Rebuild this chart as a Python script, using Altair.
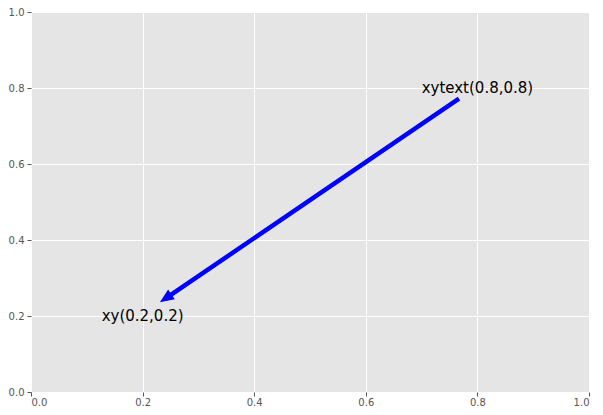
import math
import altair as alt
import pandas as pd

# annotation data
label_texts = ["xytext(0.8,0.8)", "xy(0.2,0.2)"]
label_x = [0.8, 0.2]
label_y = [0.8, 0.2]
arrow_tail = [0.767, 0.772]
arrow_tip = [0.231, 0.236]
tick_values = [0.0, 0.2, 0.4, 0.6, 0.8, 1.0]

W, H = 558, 380
HEAD_LEN = 14

# direction of arrow in pixel space
dx_px = (arrow_tip[0] - arrow_tail[0]) * W
dy_px = -(arrow_tip[1] - arrow_tail[1]) * H
L = math.hypot(dx_px, dy_px)
angle = math.degrees(math.atan2(dx_px, -dy_px)) % 360
back = HEAD_LEN - 3
shaft_end = [arrow_tip[0] - dx_px / L * back / W,
             arrow_tip[1] + dy_px / L * back / H]

shaft_df = pd.DataFrame({"x": [arrow_tail[0], shaft_end[0]],
                         "y": [arrow_tail[1], shaft_end[1]]})
head_df = pd.DataFrame({"x": [arrow_tip[0]], "y": [arrow_tip[1]]})
text_df = pd.DataFrame({"x": label_x, "y": label_y, "t": label_texts})

xs = alt.Scale(domain=[0, 1], nice=False, zero=False)
ys = alt.Scale(domain=[0, 1], nice=False, zero=False)
xaxis = alt.Axis(values=tick_values, format=".1f", title=None, labelPadding=1)
yaxis = alt.Axis(values=tick_values, format=".1f", title=None, labelPadding=3)

base_x = alt.X("x:Q", scale=xs, axis=xaxis)
base_y = alt.Y("y:Q", scale=ys, axis=yaxis)

shaft = alt.Chart(shaft_df).mark_line(color="#0000FF", strokeWidth=4.5, strokeCap="butt").encode(
    x=base_x, y=base_y)

head = alt.Chart(head_df).mark_point(
    shape="M0,0 L-0.85,2 L0.85,2 Z", filled=True, fill="#0000FF", opacity=1,
    strokeWidth=0, size=(HEAD_LEN) ** 2, angle=angle).encode(x=base_x, y=base_y)

texts = alt.Chart(text_df).mark_text(
    fontSize=15, font="DejaVu Sans", color="black", align="center", baseline="middle").encode(
    x=base_x, y=base_y, text="t:N")

chart = alt.layer(shaft, head, texts).properties(
    width=W, height=H,
    autosize=alt.AutoSizeParams(type="none"),
    padding={"left": 23, "top": 4, "right": 6, "bottom": 15},
    background="white",
).configure_view(
    fill="#E5E5E5", stroke=None
).configure_axis(
    domain=False, grid=True, gridColor="white", gridWidth=1,
    tickColor="#555555", tickSize=4, tickWidth=1,
    labelColor="#555555", labelFont="DejaVu Sans", labelFontSize=10,
)

chart.save("out.html", embed_options={"renderer": "svg", "actions": False})
